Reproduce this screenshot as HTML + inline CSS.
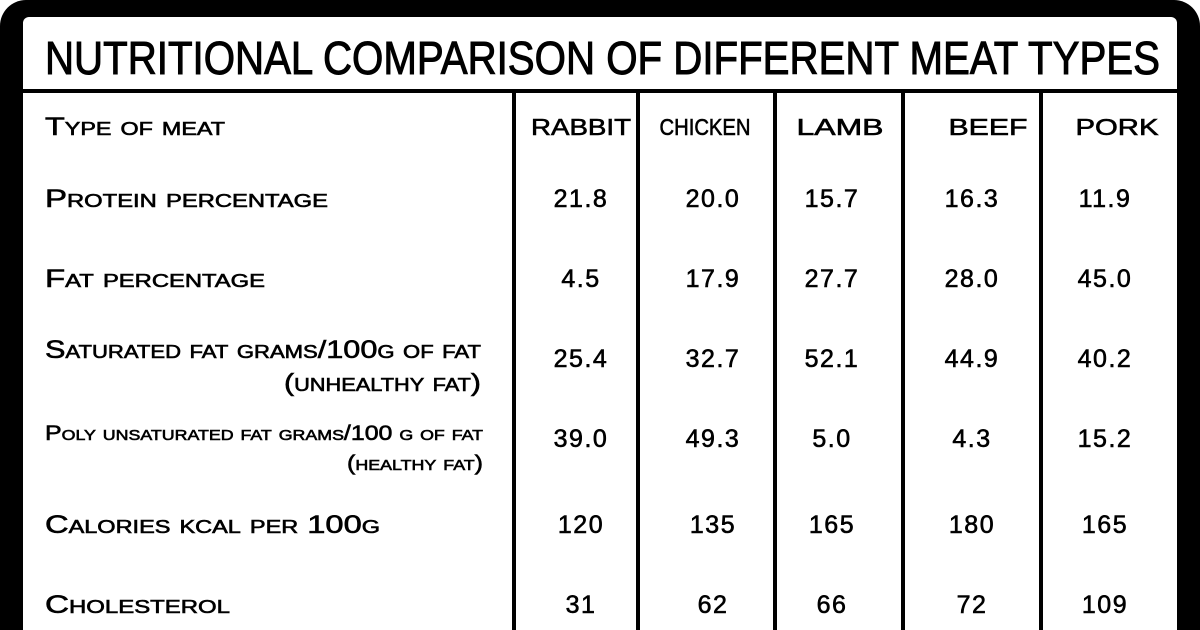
<!DOCTYPE html>
<html><head><meta charset="utf-8"><style>
html,body{margin:0;padding:0;background:#fff;overflow:hidden;}
svg{display:block;overflow:hidden;}
text{font-family:"Liberation Sans",sans-serif;fill:#000;stroke:#000;stroke-width:0.6px;}
.lbl{font-size:25px;font-variant:small-caps;}
.sm{font-size:21px;font-variant:small-caps;}
.val{font-size:25px;}
.hdr{font-size:23px;}
</style></head><body>
<svg id="tbl" width="1200" height="630" viewBox="0 0 1200 630">
<path d="M0 630 V26 A26 26 0 0 1 26 0 H1174 A26 26 0 0 1 1200 26 V630 Z" fill="#000"/>
<path d="M23 630 V23 A6 6 0 0 1 29 17 H1171 A6 6 0 0 1 1177 23 V630 Z" fill="#fff"/>
<text x="45" y="74" font-size="46" textLength="1115" lengthAdjust="spacingAndGlyphs" style="stroke-width:1px">NUTRITIONAL COMPARISON OF DIFFERENT MEAT TYPES</text>
<rect x="23" y="89" width="1154" height="4" fill="#000"/>
<g id="vlines"></g>
<g>
<text class="lbl" x="45" y="135" textLength="180" lengthAdjust="spacingAndGlyphs">Type of meat</text>
<text class="lbl" x="45" y="207" textLength="283" lengthAdjust="spacingAndGlyphs">Protein percentage</text>
<text class="lbl" x="45" y="287" textLength="220" lengthAdjust="spacingAndGlyphs">Fat percentage</text>
<text class="lbl" x="45" y="358" textLength="436" lengthAdjust="spacingAndGlyphs">Saturated fat grams/100g of fat</text>
<text class="lbl" x="284" y="391" textLength="197" lengthAdjust="spacingAndGlyphs">(unhealthy fat)</text>
<text class="sm" x="45" y="440" textLength="438" lengthAdjust="spacingAndGlyphs">Poly unsaturated fat grams/100 g of fat</text>
<text class="sm" x="347" y="470" textLength="136" lengthAdjust="spacingAndGlyphs">(healthy fat)</text>
<text class="lbl" x="45" y="533" textLength="335" lengthAdjust="spacingAndGlyphs">Calories kcal per 100g</text>
<text class="lbl" x="45" y="613" textLength="185" lengthAdjust="spacingAndGlyphs">Cholesterol</text>
</g>
<g id="cells"></g>
</svg>
<script>
const meats = ["RABBIT","CHICKEN","LAMB","BEEF","PORK"];
const protein = ["21.8","20.0","15.7","16.3","11.9"];
const fat = ["4.5","17.9","27.7","28.0","45.0"];
const saturated = ["25.4","32.7","52.1","44.9","40.2"];
const polyUnsat = ["39.0","49.3","5.0","4.3","15.2"];
const calories = ["120","135","165","180","165"];
const cholesterol = ["31","62","66","72","109"];
const rows = [protein, fat, saturated, polyUnsat, calories, cholesterol];
const rowNames = ["protein","fat","saturated","poly","calories","cholesterol"];
const rowY = [207, 287, 367, 447, 533, 613];
const colX = [581, 713, 832, 972, 1105];
const hdrX = [581, 705, 840, 988, 1117];
const hdrW = [100, 91, 87, 79, 83];
const lineX = [512, 636, 773, 901, 1039];
const NS = "http://www.w3.org/2000/svg";
const vl = document.getElementById('vlines');
lineX.forEach((x,i)=>{
  const r = document.createElementNS(NS,'rect');
  r.setAttribute('x',x); r.setAttribute('y',91); r.setAttribute('width',4); r.setAttribute('height',539);
  r.setAttribute('fill','#000');
  
  
  vl.appendChild(r);
});
const cells = document.getElementById('cells');
meats.forEach((m,i)=>{
  const t = document.createElementNS(NS,'text');
  t.setAttribute('x',hdrX[i]); t.setAttribute('y',135);
  t.setAttribute('text-anchor','middle');
  t.setAttribute('class','hdr');
  if(m==="CHICKEN"){t.setAttribute('font-size','19');}
  t.setAttribute('textLength',hdrW[i]); t.setAttribute('lengthAdjust','spacingAndGlyphs');
  t.textContent = m;
  
  
  cells.appendChild(t);
});
rows.forEach((vals,r)=>{
  vals.forEach((v,c)=>{
    const t = document.createElementNS(NS,'text');
    t.setAttribute('x',colX[c]); t.setAttribute('y',rowY[r]);
    t.setAttribute('text-anchor','middle');
    t.setAttribute('class','val');
    t.setAttribute('style','letter-spacing:1.5px');
    t.textContent = v;
    
    
    cells.appendChild(t);
  });
});
</script>
</body></html>
